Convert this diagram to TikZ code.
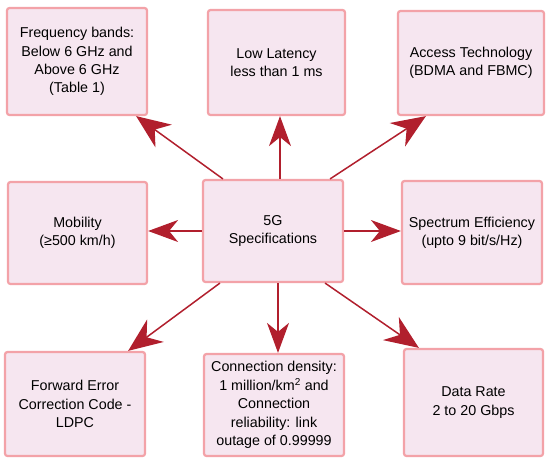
\documentclass[tikz,border=0pt]{standalone}
\usepackage{fontspec}
\setmainfont{Liberation Sans}
\usetikzlibrary{arrows.meta}
\definecolor{boxfill}{HTML}{F6E6F0}
\definecolor{boxline}{HTML}{F3A2A8}
\definecolor{arrowred}{HTML}{B11F2D}

\begin{document}
\begin{tikzpicture}[x=1pt,y=-1pt,
  specbox/.style={rectangle,draw=boxline,fill=boxfill,line width=2.2pt,rounded corners=2.5pt,
    align=center,inner sep=0pt,font=\fontsize{14.3}{18.4}\selectfont},
  link/.style={draw=arrowred,line width=1.5pt,-{Stealth[length=30pt,width=22pt,inset=9pt]}},
  biglink/.style={link,-{Stealth[length=34pt,width=28pt,inset=11pt]}}]

\useasboundingbox (0,0) rectangle (550,461);

% centre
\node[specbox,minimum width=140pt,minimum height=102pt] (core) at (273,231) {5G\\Specifications};

% top row
\node[specbox,minimum width=140pt,minimum height=107pt] (freq) at (77,61.5) {Frequency bands:\\Below 6 GHz and\\Above 6 GHz\\(Table 1)};
\node[specbox,minimum width=137pt,minimum height=105pt] (lat) at (276.5,62.5) {Low Latency\\less than 1 ms};
\node[specbox,minimum width=146pt,minimum height=104pt] (acc) at (471,63) {Access Technology\\(BDMA and FBMC)};

% middle row
\node[specbox,minimum width=139pt,minimum height=102pt] (mob) at (77.5,233) {Mobility\\(≥500 km/h)};
\node[specbox,minimum width=140pt,minimum height=103pt] (eff) at (472,232.5) {Spectrum Efficiency\\(upto 9 bit/s/Hz)};

% bottom row
\node[specbox,minimum width=140pt,minimum height=104pt] (fec) at (75,404) {Forward Error\\Correction Code -\\LDPC};
\node[specbox,minimum width=140pt,minimum height=102pt] (dens) at (274,405) {Connection density:\\1 million/km\textsuperscript{2} and\\Connection\\reliability: link\\outage of 0.99999};
\node[specbox,minimum width=139pt,minimum height=107pt] (rate) at (473.5,402.5) {Data Rate\\2 to 20 Gbps};

% arrows
\draw[biglink] ([xshift=21pt]core.north west) -- ([xshift=-12pt]freq.south east);
\draw[link] ([xshift=7pt]core.north) -- ([xshift=7pt]core.north |- lat.south);
\draw[biglink] ([xshift=-14pt]core.north east) -- ([xshift=29pt]acc.south west);
\draw[link] (core.west) -- (core.west -| mob.east);
\draw[link] (core.east) -- (core.east -| eff.west);
\draw[biglink] ([xshift=18pt]core.south west) -- ([xshift=-18pt]fec.north east);
\draw[link] ([xshift=5pt]core.south) -- ([xshift=5pt]core.south |- dens.north);
\draw[biglink] ([xshift=-19pt]core.south east) -- ([xshift=16pt]rate.north west);

\end{tikzpicture}
\end{document}
